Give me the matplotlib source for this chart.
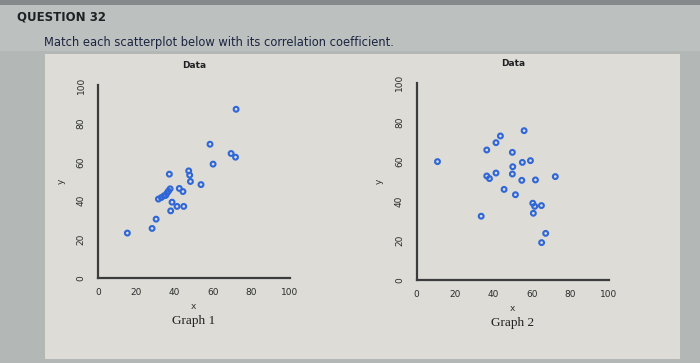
import numpy as np
import matplotlib.pyplot as plt
from matplotlib.patches import Rectangle

# Graph 1 points (strong positive association)
x1 = [15.3, 28.2, 30.3, 31.5, 33.0, 34.4, 35.3, 36.0, 36.7, 37.6, 37.2, 37.9, 38.6,
      41.2, 42.4, 44.3, 44.7, 47.3, 47.8, 48.2, 53.7, 58.4, 60.0, 69.4, 71.7, 72.0]
y1 = [23.3, 25.7, 30.5, 40.9, 41.7, 42.6, 42.8, 44.0, 45.0, 46.2, 53.8, 34.8, 39.3,
      37.1, 46.4, 44.8, 37.1, 55.5, 53.3, 50.0, 48.4, 69.3, 59.0, 64.5, 62.6, 87.4]

# Graph 2 points (weak negative association)
x2 = [10.9, 33.6, 36.5, 36.5, 37.9, 41.3, 43.6, 41.3, 45.5, 49.8, 50.0, 49.8, 51.4,
      55.0, 54.7, 55.9, 59.2, 60.4, 61.4, 60.7, 61.8, 64.9, 67.1, 65.0, 72.1]
y2 = [60.0, 32.3, 65.9, 52.7, 51.4, 69.6, 73.0, 54.2, 45.9, 64.7, 57.4, 53.7, 43.2,
      59.6, 50.5, 75.7, 60.5, 38.9, 37.3, 33.8, 50.7, 37.7, 23.6, 18.9, 52.4]

ticks = [0, 20, 40, 60, 80, 100]
captions = ["Graph 1", "Graph 2"]

fig = plt.figure(figsize=(7, 3.63), dpi=100)
fig.patch.set_facecolor("#b3b7b5")

# screen background pieces
fig.patches.append(Rectangle((0, 0.985), 1, 0.015, transform=fig.transFigure,
                             facecolor="#85898b", edgecolor="none", zorder=-5))
fig.patches.append(Rectangle((0, 0.86), 1, 0.125, transform=fig.transFigure,
                             facecolor="#bcc1c0", edgecolor="none", zorder=-5))
fig.patches.append(Rectangle((0.064, 0.012), 0.908, 0.838, transform=fig.transFigure,
                             facecolor="#dddcd6", edgecolor="none", zorder=-4))

fig.text(0.024, 0.952, "QUESTION 32", fontsize=8.5, fontweight="bold",
         color="#1e2224", va="center")
fig.text(0.063, 0.882, "Match each scatterplot below with its correlation coefficient.",
         fontsize=8.3, color="#1c2440", va="center")

boxes = [[0.140, 0.234, 0.274, 0.532], [0.595, 0.229, 0.275, 0.543]]
data = [(x1, y1), (x2, y2)]

for i, (box, (xs, ys)) in enumerate(zip(boxes, data)):
    ax = fig.add_axes(box)
    ax.set_facecolor("none")
    ax.scatter(xs, ys, s=12, facecolors="none", edgecolors="#2f67d8",
               linewidths=1.5, clip_on=False)
    ax.set_xlim(0, 100)
    ax.set_ylim(0, 100)
    ax.set_xticks(ticks)
    ax.set_yticks(ticks)
    for side in ["top", "right"]:
        ax.spines[side].set_visible(False)
    for side in ["left", "bottom"]:
        ax.spines[side].set_color("#3a3c3e")
        ax.spines[side].set_linewidth(1.6)
    ax.tick_params(length=0, labelsize=6.5, colors="#2a2c2e", pad=7)
    ax.tick_params(axis="y", labelrotation=90, pad=9)
    for lab in ax.get_yticklabels():
        lab.set_va("center")
    ax.set_title("Data", fontsize=6.5, fontweight="bold", pad=12, color="#1e2022")
    ax.set_xlabel("x", fontsize=6.5, labelpad=4, color="#333")
    ax.set_ylabel("y", fontsize=6.5, labelpad=8, color="#333")
    ax.text(0.5, -0.22, captions[i], transform=ax.transAxes, ha="center", va="center",
            fontsize=9.5, family="Liberation Serif", color="#222")

fig.savefig("out.png", dpi=100, facecolor=fig.get_facecolor())
